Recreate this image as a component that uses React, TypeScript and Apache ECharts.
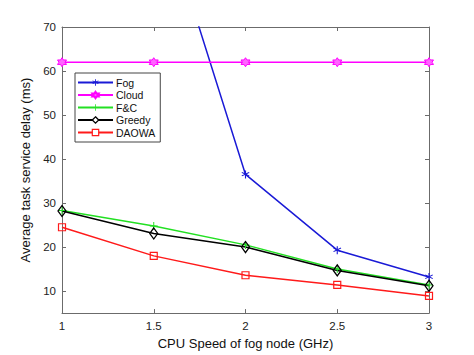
import React, { useEffect, useRef } from "react";
import * as echarts from "echarts";

const xValues = [1, 1.5, 2, 2.5, 3];
const fog = [180, 102.6, 36.5, 19.3, 13.2];
const cloud = [62, 62, 62, 62, 62];
const fc = [28.3, 24.8, 20.5, 15.0, 11.4];
const greedy = [28.2, 23.1, 20.0, 14.7, 11.2];
const daowa = [24.5, 18.0, 13.6, 11.4, 8.9];
const yTicks = [10, 20, 30, 40, 50, 60, 70];

const asterisk =
  "path://M4.4,0 L5.6,0 L5.6,3.6 L8.7,1.8 L9.3,2.8 L6.2,4.6 L9.3,6.4 L8.7,7.4 L5.6,5.6 L5.6,10 L4.4,10 L4.4,5.6 L1.3,7.4 L0.7,6.4 L3.8,4.6 L0.7,2.8 L1.3,1.8 L4.4,3.6 Z";
const plus = "path://M4.4,0 L5.6,0 L5.6,4.4 L10,4.4 L10,5.6 L5.6,5.6 L5.6,10 L4.4,10 L4.4,5.6 L0,5.6 L0,4.4 L4.4,4.4 Z";
const hexagram =
  "path://M5,0 L6.4,2.5 L9.3,2.5 L7.9,5 L9.3,7.5 L6.4,7.5 L5,10 L3.6,7.5 L0.7,7.5 L2.1,5 L0.7,2.5 L3.6,2.5 Z";

const mk = (vals: number[]) => xValues.map((x, i) => [x, vals[i]]);

export default function App() {
  const ref = useRef<HTMLDivElement>(null);
  useEffect(() => {
    if (!ref.current) return;
    const chart = echarts.init(ref.current, undefined, { renderer: "svg" });
    const font = "Liberation Sans, Arial, sans-serif";
    const axisLine = { lineStyle: { color: "#6b6b6b", width: 1 } };
    const tick = { inside: true, length: 4, lineStyle: { color: "#6b6b6b" } };
    chart.setOption({
      animation: false,
      backgroundColor: "#fff",
      textStyle: { fontFamily: font },
      grid: { left: 62, right: 45, top: 27, bottom: 39, containLabel: false },
      legend: {
        orient: "vertical",
        left: 75,
        top: 73,
        itemWidth: 35,
        itemHeight: 8,
        itemGap: 1.5,
        padding: [4, 5, 4, 2],
        borderColor: "#444",
        borderWidth: 1,
        backgroundColor: "#fff",
        textStyle: { fontSize: 10.5, color: "#111", fontFamily: font, padding: [0, 0, 0, -2] },
        data: [
          { name: "Fog" },
          { name: "Cloud" },
          { name: "F&C" },
          { name: "Greedy", itemStyle: { color: "#fff", borderColor: "#000", borderWidth: 1.3 } },
          { name: "DAOWA", itemStyle: { color: "#fff", borderColor: "#ff1a1a", borderWidth: 1.2 } },
        ],
      },
      xAxis: [
        {
          type: "value",
          min: 1,
          max: 3,
          interval: 0.5,
          name: "CPU Speed of fog node (GHz)",
          nameLocation: "middle",
          nameGap: 21,
          nameTextStyle: { fontSize: 13, color: "#111", fontFamily: font },
          axisLine,
          axisTick: tick,
          axisLabel: { fontSize: 11.5, color: "#222", margin: 7, fontFamily: font },
          splitLine: { show: false },
        },
        {
          type: "value",
          position: "top",
          min: 1,
          max: 3,
          interval: 0.5,
          axisLine,
          axisTick: tick,
          axisLabel: { show: false },
          splitLine: { show: false },
        },
      ],
      yAxis: [
        {
          type: "value",
          min: 5,
          max: 70,
          name: "Average task service delay (ms)",
          nameLocation: "middle",
          nameGap: 23,
          nameTextStyle: { fontSize: 13, color: "#111", fontFamily: font },
          axisLine: { show: true, ...axisLine },
          axisTick: { ...tick, customValues: yTicks },
          axisLabel: { fontSize: 11.5, color: "#222", margin: 6, customValues: yTicks, fontFamily: font },
          splitLine: { show: false },
        },
        {
          type: "value",
          position: "right",
          min: 5,
          max: 70,
          axisLine: { show: true, ...axisLine },
          axisTick: { ...tick, customValues: yTicks },
          axisLabel: { show: false, customValues: yTicks },
          splitLine: { show: false },
        },
      ],
      series: [
        {
          name: "Fog",
          type: "line",
          data: mk(fog),
          clip: true,
          symbol: asterisk,
          symbolSize: 8,
          color: "#1a1ad6",
          lineStyle: { width: 1.5, color: "#1a1ad6" },
          itemStyle: { color: "#1a1ad6" },
        },
        {
          name: "Cloud",
          type: "line",
          data: mk(cloud),
          clip: false,
          symbol: hexagram,
          symbolSize: 9,
          color: "#ff00ff",
          lineStyle: { width: 1.5, color: "#ff00ff" },
          itemStyle: { color: "#ff66ff", borderColor: "#ff00ff", borderWidth: 1 },
        },
        {
          name: "F&C",
          type: "line",
          data: mk(fc),
          symbol: plus,
          symbolSize: 8,
          color: "#22e022",
          lineStyle: { width: 1.5, color: "#22e022" },
          itemStyle: { color: "#22e022" },
        },
        {
          name: "Greedy",
          type: "line",
          data: mk(greedy),
          symbol: "diamond",
          symbolSize: [8, 11],
          color: "#000",
          lineStyle: { width: 1.5, color: "#000" },
          itemStyle: { color: "rgba(0,0,0,0)", borderColor: "#000", borderWidth: 1.3 },
        },
        {
          name: "DAOWA",
          type: "line",
          data: mk(daowa),
          symbol: "rect",
          symbolSize: 7,
          color: "#ff1a1a",
          lineStyle: { width: 1.5, color: "#ff1a1a" },
          itemStyle: { color: "rgba(255,255,255,0)", borderColor: "#ff1a1a", borderWidth: 1.2 },
        },
      ],
    });
    return () => chart.dispose();
  }, []);
  return <div ref={ref} style={{ width: 474, height: 355, position: "absolute", left: 0, top: 0 }} />;
}
